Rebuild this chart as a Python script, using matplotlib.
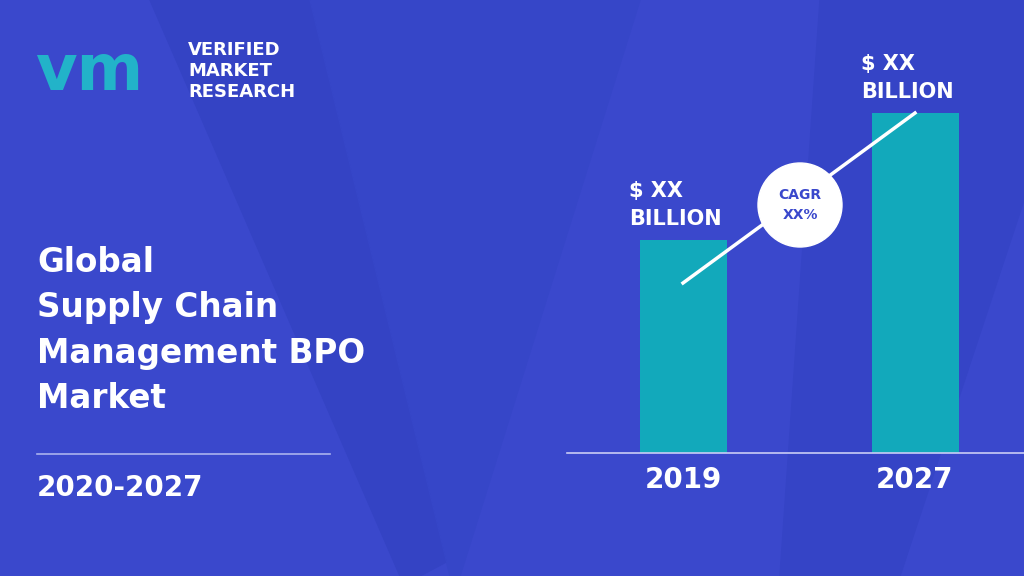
import matplotlib.pyplot as plt
from matplotlib.patches import Polygon, Circle

years = ["2019", "2027"]
bar_values = [213, 340]          # relative bar heights (market size not disclosed)
value_labels = ["$ XX\nBILLION", "$ XX\nBILLION"]
title_lines = ["Global", "Supply Chain", "Management BPO", "Market"]
period = "2020-2027"
cagr_text = "CAGR\nXX%"

bg = "#3a48cc"
bar_color = "#12a9bb"

fig = plt.figure(figsize=(10.24, 5.76), dpi=100)
fig.patch.set_facecolor(bg)
ax = fig.add_axes([0, 0, 1, 1])
ax.set_xlim(0, 1024)
ax.set_ylim(576, 0)
ax.axis("off")
ax.set_facecolor(bg)

# big faint "V" shape in the background
ax.add_patch(Polygon([(150, 0), (310, 0), (450, 560), (420, 576), (400, 576)],
                     closed=True, color="#3443c4", zorder=0))
ax.add_patch(Polygon([(310, 0), (640, 0), (460, 576), (450, 576)],
                     closed=True, color="#3646c8", zorder=0))
ax.add_patch(Polygon([(820, 0), (1024, 0), (1024, 200), (900, 576), (780, 576)],
                     closed=True, color="#3544c6", zorder=0))

# logo
ax.text(35, 72, "vm", fontsize=46, color="#22b3c9", fontweight="bold",
        va="center", ha="left", family="DejaVu Sans")
for i, w in enumerate(["VERIFIED", "MARKET", "RESEARCH"]):
    ax.text(188, 50 + i * 21, w, fontsize=13, color="white", va="center",
            ha="left", fontweight="bold", family="DejaVu Sans")

# title
for i, line in enumerate(title_lines):
    ax.text(37, 262 + i * 45.5, line, fontsize=23.5, color="white",
            fontweight="bold", va="center", ha="left", family="DejaVu Sans")
ax.plot([37, 330], [454, 454], color="#aab2ee", lw=1.2)
ax.text(37, 488, period, fontsize=20, color="white", fontweight="bold",
        va="center", ha="left", family="DejaVu Sans")

# bars
baseline = 453
xs = [683, 915]
ax.bar(xs, [-v for v in bar_values], bottom=baseline, width=87,
       color=bar_color, zorder=2)
ax.plot([567, 1024], [baseline, baseline], color="#c9cdf5", lw=1.2, zorder=3)
for x, v, yr, lab in zip(xs, bar_values, years, value_labels):
    ax.text(x, 480, yr, fontsize=20, color="white", fontweight="bold",
            ha="center", va="center", family="DejaVu Sans")
    ax.text(x - 54, baseline - v - 35, lab, fontsize=15, color="white",
            fontweight="bold", ha="left", va="center", linespacing=1.5,
            family="DejaVu Sans")

# CAGR line and bubble
ax.plot([683, 915], [283, 113], color="white", lw=2.5, zorder=4)
ax.add_patch(Circle((800, 205), 42, color="white", zorder=5))
ax.text(800, 205, cagr_text, fontsize=10, color="#3a48cc", fontweight="bold",
        ha="center", va="center", zorder=6, linespacing=1.5)

fig.savefig("out.png", dpi=100, facecolor=bg)
